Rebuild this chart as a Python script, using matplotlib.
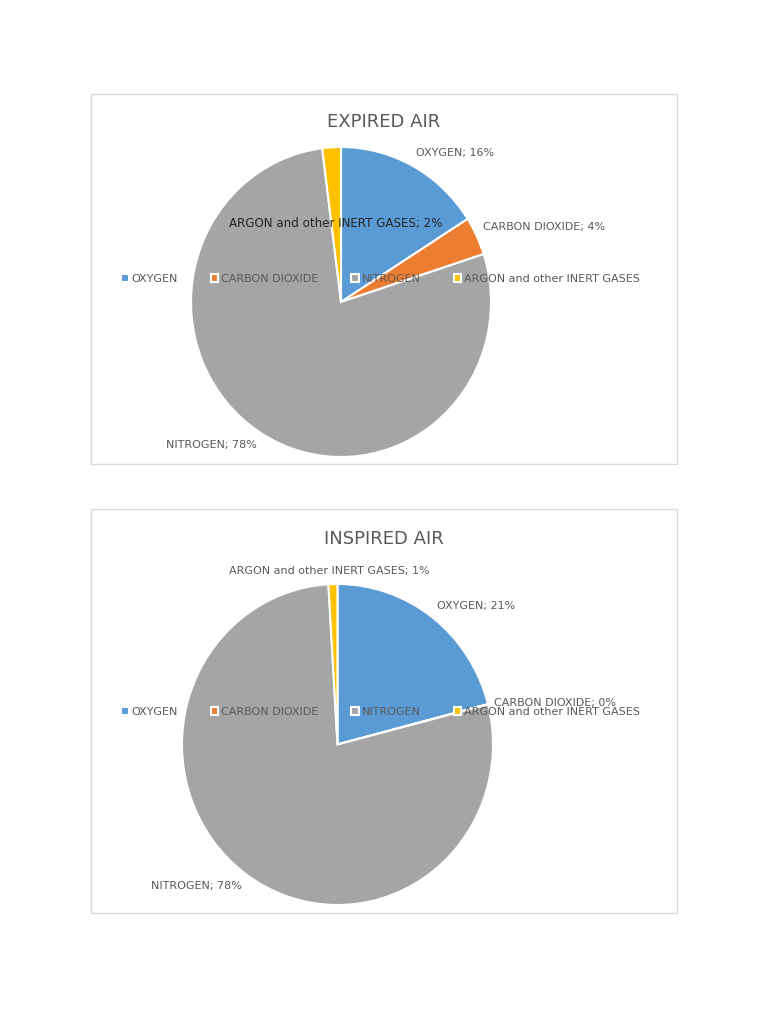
import matplotlib
matplotlib.use("Agg")
import matplotlib.pyplot as plt
from matplotlib.patches import Rectangle

W, H = 768, 1024

gases = ["OXYGEN", "CARBON DIOXIDE", "NITROGEN", "ARGON and other INERT GASES"]
expired = [16, 4, 78, 2]
inspired = [20.95, 0.04, 78.09, 0.93]
colors = ["#5B9BD5", "#ED7D31", "#A5A5A5", "#FFC000"]
text_grey = "#595959"

fig = plt.figure(figsize=(W / 100, H / 100), dpi=100)
fig.patch.set_facecolor("white")


def px_axes(cx, cy, rx, ry):
    # axes placed so the pie has centre (cx, cy) and radii rx, ry in pixels
    return fig.add_axes([(cx - rx) / W, 1 - (cy + ry) / H, 2 * rx / W, 2 * ry / H])


def box(x0, y0, x1, y1):
    fig.add_artist(Rectangle((x0 / W, 1 - y1 / H), (x1 - x0) / W, (y1 - y0) / H,
                             transform=fig.transFigure, fill=False,
                             edgecolor="#d9d9d9", linewidth=1))


def label(x, y, s, **kw):
    opts = dict(color=text_grey, fontsize=8, va="center", ha="left")
    opts.update(kw)
    fig.text(x / W, 1 - y / H, s, **opts)


def draw_chart(values, title, cx, cy, rx, ry, title_y, legend_y, label_pos, special=None):
    ax = px_axes(cx, cy, rx, ry)
    wedges, _ = ax.pie(values, colors=colors, startangle=90, counterclock=False,
                       wedgeprops=dict(edgecolor="white", linewidth=1.5))
    ax.set_aspect("auto")
    ax.set_xlim(-1, 1)
    ax.set_ylim(-1, 1)
    ax.axis("off")

    fig.text(384 / W, 1 - title_y / H, title, ha="center", va="center",
             fontsize=13, color=text_grey)

    total = sum(values)
    for i, (name, v) in enumerate(zip(gases, values)):
        x, y = label_pos[i]
        s = f"{name}; {round(100 * v / total):.0f}%"
        if special == i:
            label(x, y, s, color="#262626", fontsize=8.55)
        else:
            label(x, y, s)

    leg = fig.legend(wedges, gases, loc="center left",
                     bbox_to_anchor=(121 / W, 1 - legend_y / H),
                     bbox_transform=fig.transFigure, ncol=4, frameon=False,
                     fontsize=8, handlelength=0.7, handleheight=0.7,
                     handletextpad=0.25, columnspacing=2.95,
                     borderpad=0, borderaxespad=0)
    for t in leg.get_texts():
        t.set_color(text_grey)


box(91, 94, 677, 464)
draw_chart(expired, "EXPIRED AIR", 341, 302, 150, 155, 122, 279,
           [(416, 153), (483, 227), (166, 445), (229, 224)], special=3)

box(91, 509, 677, 913)
draw_chart(inspired, "INSPIRED AIR", 337.5, 744.5, 155.5, 160.5, 539, 712,
           [(437, 606), (494, 703), (151, 886), (229, 571)])

fig.savefig("out.png", dpi=100, facecolor="white")
